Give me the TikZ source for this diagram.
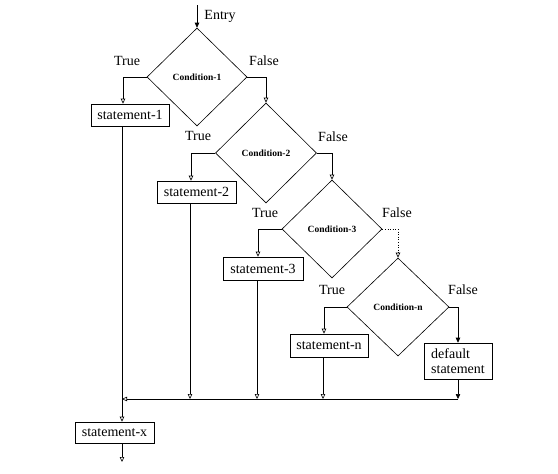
\documentclass[tikz,border=0pt]{standalone}
\usepackage{fontspec}
\setmainfont{Liberation Serif}
\usetikzlibrary{shapes.geometric,arrows.meta}
\begin{document}
\begin{tikzpicture}[x=1pt,y=-1pt,
  line width=0.6pt,
  lbl/.style={font=\fontsize{14}{16}\selectfont, inner sep=0pt},
  cond/.style={draw, diamond, inner sep=0pt, font=\fontsize{9.5}{11}\selectfont\bfseries},
  stbox/.style={draw, rectangle, inner sep=0pt, font=\fontsize{14}{16}\selectfont},
  arr/.style={-{Triangle[open,length=5pt,width=4.5pt]}},
  arrf/.style={-{Triangle[length=5pt,width=4.5pt]}}
]
\useasboundingbox (0,0) rectangle (558,474);
% decisions
\node[cond, minimum width=100, minimum height=98] (d1) at (197,77) {Condition-1};
\node[cond, minimum width=101, minimum height=100] (d2) at (266,153) {Condition-2};
\node[cond, minimum width=100, minimum height=98] (d3) at (332,229) {Condition-3};
\node[cond, minimum width=102, minimum height=98] (dn) at (398,307) {Condition-n};
% statements
\node[stbox, minimum width=78, minimum height=22] (s1) at (130,115) {statement-1};
\node[stbox, minimum width=79, minimum height=22] (s2) at (196.5,192) {statement-2};
\node[stbox, minimum width=80, minimum height=23] (s3) at (263,268.5) {statement-3};
\node[stbox, minimum width=78, minimum height=23] (sn) at (329,345.5) {statement-n};
\node[stbox, minimum width=68, minimum height=36, align=left] (def) at (458,361) {default\\[-1pt]statement};
\node[stbox, minimum width=79, minimum height=21] (sx) at (114.5,432.5) {statement-x};
% labels
\node[lbl] (entry) at (220,16) {Entry};
\node[lbl] (t1) at (127,61) {True};
\node[lbl] (f1) at (264,61) {False};
\node[lbl] (t2) at (198,136) {True};
\node[lbl] (f2) at (333,137) {False};
\node[lbl] (t3) at (265,213) {True};
\node[lbl] (f3) at (397,213) {False};
\node[lbl] (tn) at (332,290) {True};
\node[lbl] (fn) at (463,290) {False};
% coordinates
\coordinate (start) at (197,5);
\coordinate (j) at (122,399);
\coordinate (jr) at (458,399);
\coordinate (j2) at (190,399);
\coordinate (j3) at (257,399);
\coordinate (jn) at (323,399);
\coordinate (out) at (122,462);
% connectors
\draw[arrf] (start) -- (d1.north);
\draw[arr] (d1.west) -| ([xshift=-7]s1.north);
\draw[arr] (d1.east) -| (d2.north);
\draw[arr] (d2.west) -| ([xshift=-5.5]s2.north);
\draw[arr] (d2.east) -| (d3.north);
\draw[arr] (d3.west) -| ([xshift=-5]s3.north);
\draw[arr, dotted] (d3.east) -| (dn.north);
\draw[arr] (dn.west) -| ([xshift=-5]sn.north);
\draw[arrf] (dn.east) -| (def.north);
\draw[arr] ([xshift=-6.5]s2.south) -- (j2);
\draw[arr] ([xshift=-6]s3.south) -- (j3);
\draw[arr] ([xshift=-6]sn.south) -- (jn);
\draw[arrf] (def.south) -- (jr);
\draw[arr] (jr) -- (j);
\draw ([xshift=-8]s1.south) -- (j);
\draw[arr] (j) -- ([xshift=7.5]sx.north);
\draw[arr] ([xshift=7.5]sx.south) -- (out);
\end{tikzpicture}
\end{document}
